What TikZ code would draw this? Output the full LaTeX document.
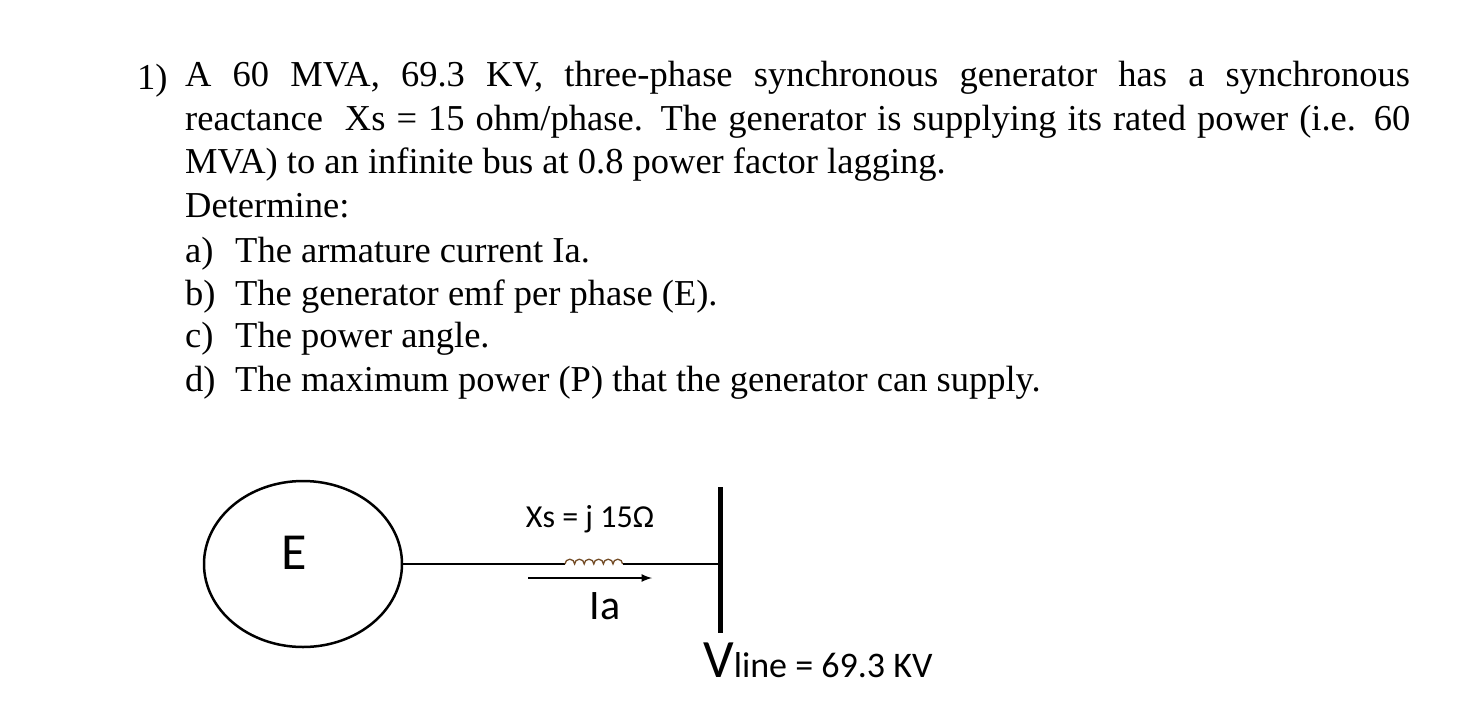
\documentclass[tikz,border=0pt]{standalone}
\usepackage{fontspec}
\usetikzlibrary{shapes.geometric}
\setmainfont{Liberation Serif}
\newfontfamily\calfont{Carlito}
\begin{document}
\begin{tikzpicture}[x=1pt,y=-1pt,
  txt/.style={anchor=base west,inner sep=0,font=\fontsize{36.5}{43.5}\selectfont},
  lab/.style={inner sep=0,font=\calfont\fontsize{32}{36}\selectfont},
  wire/.style={line width=2.5pt}]
\useasboundingbox (0,0) rectangle (1464,718);
\node[txt] (n1) at (137,89) {1)};
\node[txt,text width=1225pt,align=justify,anchor=north west] (p) at (185,61)
{A 60 MVA, 69.3 KV, three-phase synchronous generator has a synchronous\linebreak
reactance~~Xs = 15 ohm/phase. The generator is supplying its rated power (i.e. 60\linebreak
MVA) to an infinite bus at 0.8 power factor lagging.\par
Determine:};
\node[txt] (a) at (185,262) {\makebox[50pt][l]{a)}The armature current Ia.};
\node[txt] (b) at (185,305) {\makebox[50pt][l]{b)}The generator emf per phase (E).};
\node[txt] (c) at (185,347) {\makebox[50pt][l]{c)}The power angle.};
\node[txt] (d) at (185,391) {\makebox[50pt][l]{d)}The maximum power (P) that the generator can supply.};
% circuit
\node[draw,wire,ellipse,minimum width=198pt,minimum height=166pt,inner sep=0] (g) at (303,564) {};
\node[lab,font=\calfont\fontsize{52}{56}\selectfont] (E) at (294,553) {E};
\coordinate (l1) at (565,564);
\coordinate (l2) at (623,564);
\coordinate (bt) at (720,487);
\coordinate (bb) at (720,633);
\coordinate (bm) at (720,564);
\draw[wire] (g.east) -- (497,564);
\draw[line width=1.3pt] (497,564) -- (l1);
\draw[line width=1.3pt,brown!60!black] (l1) arc (180:360:4.8) arc(180:360:4.8) arc(180:360:4.8)
 arc(180:360:4.8) arc(180:360:4.8) arc(180:360:4.8);
\draw[line width=1.3pt] (l2) -- (bm);
\draw[line width=5pt] (bt) -- (bb);
\coordinate (a1) at (528,578);
\coordinate (a2) at (652,578);
\draw[line width=2.5pt,-{latex}] (a1) -- (a2);
\node[lab] (xs) at (590,519) {Xs = j 15Ω};
\node[lab,font=\calfont\fontsize{42}{46}\selectfont] (ia) at (605,606) {Ia};
\node[lab,anchor=base west,font=\calfont\fontsize{36}{40}\selectfont] (vl) at (703,677) {{\fontsize{54}{58}\selectfont V}line = 69.3 KV};
\end{tikzpicture}
\end{document}
